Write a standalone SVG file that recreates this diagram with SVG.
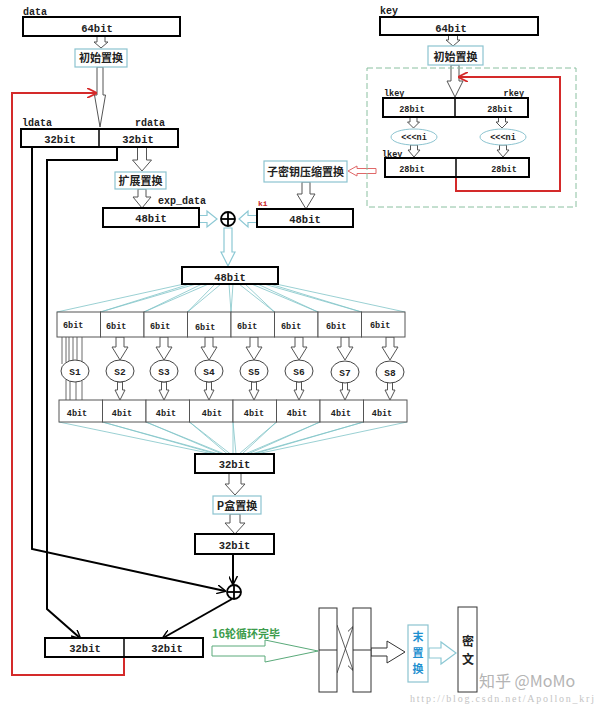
<svg xmlns="http://www.w3.org/2000/svg" xmlns:xlink="http://www.w3.org/1999/xlink" width="600" height="707" viewBox="0 0 600 707">
<style>
.bg{fill:#fff}
.b{fill:#fff;stroke:#000;stroke-width:2}
.sb{fill:#fff;stroke:#555;stroke-width:1}
.lb{fill:#fff;stroke:#8cc4d0;stroke-width:1.2}
.t{font-family:"Liberation Mono",monospace;font-weight:bold;fill:#222;text-anchor:middle}
.l{font-family:"Liberation Mono",monospace;font-weight:bold;fill:#222}
.cn{font-family:"Noto Sans CJK SC",sans-serif;font-weight:bold;font-size:11px;fill:#222;text-anchor:middle}
.ha{fill:#fff;stroke:#555;stroke-width:1}
.hb{fill:#fff;stroke:#8cc8d4;stroke-width:1.2}
.fan{stroke:#80c4c8;stroke-width:0.8;fill:none}
.blk{stroke:#000;stroke-width:2;fill:none}
.red{stroke:#d42a2a;stroke-width:2;fill:none}
.thin{stroke:#333;stroke-width:0.8;fill:none}
</style>
<defs>
<marker id="ab" viewBox="0 0 10 10" refX="9" refY="5" markerWidth="9" markerHeight="9" markerUnits="userSpaceOnUse" orient="auto"><path d="M0,0 L10,5 L0,10" fill="none" stroke="#000" stroke-width="1.6"/></marker>
<marker id="ar" viewBox="0 0 10 10" refX="9" refY="5" markerWidth="10" markerHeight="10" markerUnits="userSpaceOnUse" orient="auto"><path d="M0,0 L10,5 L0,10" fill="none" stroke="#d42a2a" stroke-width="1.8"/></marker>
<marker id="at" viewBox="0 0 10 10" refX="9" refY="5" markerWidth="7" markerHeight="7" markerUnits="userSpaceOnUse" orient="auto"><path d="M0,0 L10,5 L0,10" fill="none" stroke="#333" stroke-width="1.2"/></marker>
<path id="sa" class="ha" d="M-4,0 L4,0 L4,10 L8,10 L0,23 L-8,10 L-4,10 Z"/>
<path id="sm" class="ha" d="M-2.5,0 L2.5,0 L2.5,8 L5,8 L0,18 L-5,8 L-2.5,8 Z"/>
</defs>
<rect class="bg" x="0" y="0" width="600" height="707"/>

<g id="connectors">
  <g id="fanout">
    <line class="fan" x1="184" y1="284" x2="57" y2="312"/>
    <line class="fan" x1="190" y1="284" x2="100.5" y2="312"/>
    <line class="fan" x1="196" y1="284" x2="100.5" y2="312"/>
    <line class="fan" x1="202" y1="284" x2="144" y2="312"/>
    <line class="fan" x1="208.5" y1="284" x2="144" y2="312"/>
    <line class="fan" x1="215" y1="284" x2="187.5" y2="312"/>
    <line class="fan" x1="221" y1="284" x2="187.5" y2="312"/>
    <line class="fan" x1="229" y1="284" x2="231" y2="312"/>
    <line class="fan" x1="233" y1="284" x2="231" y2="312"/>
    <line class="fan" x1="239" y1="284" x2="274.5" y2="312"/>
    <line class="fan" x1="245" y1="284" x2="274.5" y2="312"/>
    <line class="fan" x1="251.5" y1="284" x2="318" y2="312"/>
    <line class="fan" x1="257.5" y1="284" x2="318" y2="312"/>
    <line class="fan" x1="264" y1="284" x2="361.5" y2="312"/>
    <line class="fan" x1="270" y1="284" x2="361.5" y2="312"/>
    <line class="fan" x1="276" y1="284" x2="405" y2="312"/>
  </g>
  <g id="fanin">
    <line class="fan" x1="59" y1="422" x2="213" y2="454"/>
    <line class="fan" x1="102.5" y1="422" x2="216" y2="454"/>
    <line class="fan" x1="102.5" y1="422" x2="219" y2="454"/>
    <line class="fan" x1="146" y1="422" x2="222" y2="454"/>
    <line class="fan" x1="146" y1="422" x2="224.5" y2="454"/>
    <line class="fan" x1="189.5" y1="422" x2="227.5" y2="454"/>
    <line class="fan" x1="189.5" y1="422" x2="230.5" y2="454"/>
    <line class="fan" x1="233" y1="422" x2="233" y2="454"/>
    <line class="fan" x1="233" y1="422" x2="236" y2="454"/>
    <line class="fan" x1="276.5" y1="422" x2="239" y2="454"/>
    <line class="fan" x1="276.5" y1="422" x2="242" y2="454"/>
    <line class="fan" x1="320" y1="422" x2="245" y2="454"/>
    <line class="fan" x1="320" y1="422" x2="248" y2="454"/>
    <line class="fan" x1="363.5" y1="422" x2="251" y2="454"/>
    <line class="fan" x1="363.5" y1="422" x2="253.5" y2="454"/>
    <line class="fan" x1="407" y1="422" x2="256.5" y2="454"/>
  </g>
  <g id="s1lines" stroke="#444" stroke-width="0.8">
    <line x1="62" y1="337" x2="62" y2="364"/>
    <line x1="66" y1="337" x2="66" y2="362"/>
    <line x1="69" y1="337" x2="69" y2="361"/>
    <line x1="73" y1="337" x2="73" y2="361"/>
    <line x1="77" y1="337" x2="77" y2="361"/>
    <line x1="82" y1="337" x2="82" y2="362"/>
    <line x1="66" y1="380" x2="66" y2="400"/>
    <line x1="70" y1="381" x2="70" y2="400"/>
    <line x1="76" y1="382" x2="76" y2="400"/>
    <line x1="82" y1="381" x2="82" y2="400"/>
  </g>
  <path class="ha" d="M97,36 L105,36 L105,42 L108,42 L101,48 L94,42 L97,42 Z"/>
  <path class="ha" d="M97,67 L103,67 L103,95 L105.5,95 L100,127 L94.5,95 L97,95 Z"/>
  <path class="ha" d="M137.5,147 L146.5,147 L146.5,160 L151.5,160 L142,171 L132.5,160 L137.5,160 Z"/>
  <path class="ha" d="M138,189 L146,189 L146,197 L151,197 L142,208 L133,197 L138,197 Z"/>
  <path class="hb" d="M199,215.5 L207,215.5 L207,211 L217,219 L207,227 L207,222.5 L199,222.5 Z"/>
  <path class="hb" d="M257,215.5 L248,215.5 L248,211 L239,219 L248,227 L248,222.5 L257,222.5 Z"/>
  <path class="hb" d="M224,228 L232,228 L232,252 L235,252 L228,266 L221,252 L224,252 Z"/>
  <path class="ha" d="M302,182 L310,182 L310,194 L315,194 L306,209 L297,194 L302,194 Z"/>
  <path class="ha" d="M448.5,35 L457.5,35 L457.5,40 L460,40 L453,46 L446,40 L448.5,40 Z"/>
  <path class="ha" d="M451,65 L459,65 L459,81 L463,81 L455,97 L447,81 L451,81 Z"/>
  <path class="ha" d="M410,117 L417,117 L417,122 L419.5,122 L413.5,128 L407.5,122 L410,122 Z"/>
  <path class="ha" d="M498.5,117 L505.5,117 L505.5,122 L508,122 L502,128 L496,122 L498.5,122 Z"/>
  <path class="ha" d="M410.5,145 L417.5,145 L417.5,150 L420,150 L414,157 L408,150 L410.5,150 Z"/>
  <path class="ha" d="M499.5,145 L506.5,145 L506.5,150 L509,150 L503,157 L497,150 L499.5,150 Z"/>
  <path fill="#fff" stroke="#e06868" stroke-width="1" d="M376,168.5 L357,168.5 L357,166 L348,171 L357,176 L357,173.5 L376,173.5 Z"/>
  <use xlink:href="#sa" x="120" y="337"/>
  <use xlink:href="#sa" x="164" y="337"/>
  <use xlink:href="#sa" x="209" y="337"/>
  <use xlink:href="#sa" x="254" y="337"/>
  <use xlink:href="#sa" x="299" y="337"/>
  <use xlink:href="#sa" x="345" y="337"/>
  <use xlink:href="#sa" x="390" y="337"/>
  <use xlink:href="#sm" x="120" y="382"/>
  <use xlink:href="#sm" x="164" y="382"/>
  <use xlink:href="#sm" x="209" y="382"/>
  <use xlink:href="#sm" x="254" y="382"/>
  <use xlink:href="#sm" x="299" y="382"/>
  <use xlink:href="#sm" x="345" y="382"/>
  <use xlink:href="#sm" x="390" y="382"/>
  <path class="ha" d="M229,473 L241,473 L241,484 L245,484 L235,495 L225,484 L229,484 Z"/>
  <path class="ha" d="M230,514 L240,514 L240,523 L245,523 L235,534 L225,523 L230,523 Z"/>
  <path fill="#fff" stroke="#5aaa7a" stroke-width="1" d="M212,646 L265,646 L265,640 L318,651 L265,662 L265,656 L212,656 Z"/>
  <path fill="#fff" stroke="#333" stroke-width="1" d="M371,648 L387,648 L387,641 L405,652 L387,663 L387,656 L371,656 Z"/>
  <path class="hb" d="M429,648 L441,648 L441,642 L456,653 L441,664 L441,658 L429,658 Z"/>
  <polyline class="blk" points="32,147 32,549 225,591" marker-end="url(#ab)"/>
  <polyline class="blk" points="117,147 117,160 47,160 47,609 80,638" marker-end="url(#ab)"/>
  <line class="blk" x1="233" y1="554" x2="233" y2="584" marker-end="url(#ab)"/>
  <line class="blk" x1="232" y1="599" x2="163" y2="638" marker-end="url(#ab)"/>
  <polyline class="red" points="124,657 124,675 12,675 12,93 96,93" marker-end="url(#ar)"/>
  <polyline class="red" points="456,177 456,191 560,191 560,77 459,77" marker-end="url(#ar)"/>
  <line class="thin" x1="337" y1="625" x2="353" y2="670" marker-end="url(#at)"/>
  <line class="thin" x1="337" y1="673" x2="353" y2="627" marker-end="url(#at)"/>
</g>

<g id="data-input">
  <text class="l" x="23" y="15" font-size="10">data</text>
  <rect class="b" x="23" y="17" width="157" height="19"/>
  <text class="t" x="97" y="32" font-size="10.5">64bit</text>
</g>
<g id="ip-left">
  <rect class="lb" x="75" y="49" width="52" height="18"/>
  <text class="cn" x="101" y="62">初始置换</text>
</g>
<g id="lr-data">
  <text class="l" x="22" y="126" font-size="10">ldata</text>
  <text class="l" x="135" y="126" font-size="10">rdata</text>
  <rect class="b" x="21" y="129" width="157" height="18"/>
  <line stroke="#000" stroke-width="1.5" x1="99" y1="129" x2="99" y2="147"/>
  <text class="t" x="60" y="143" font-size="10.5">32bit</text>
  <text class="t" x="138" y="143" font-size="10.5">32bit</text>
</g>
<g id="expand">
  <rect class="lb" x="115" y="172" width="51" height="17"/>
  <text class="cn" x="140.5" y="185">扩展置换</text>
</g>
<g id="exp-data">
  <text class="l" x="158" y="204" font-size="10">exp_data</text>
  <rect class="b" x="103" y="208" width="96" height="19"/>
  <text class="t" x="151" y="222" font-size="10.5">48bit</text>
</g>
<g id="xor1">
  <circle cx="228" cy="219" r="7" fill="#fff" stroke="#000" stroke-width="1.8"/>
  <line x1="221" y1="219" x2="235" y2="219" stroke="#000" stroke-width="1.8"/>
  <line x1="228" y1="212" x2="228" y2="226" stroke="#000" stroke-width="1.8"/>
</g>
<g id="ki">
  <text class="l" x="258" y="206" font-size="8" style="fill:#c82828">ki</text>
  <rect class="b" x="257" y="209" width="96" height="18"/>
  <text class="t" x="305" y="223" font-size="10.5">48bit</text>
</g>
<g id="pc2">
  <rect class="lb" x="264" y="161" width="83" height="21"/>
  <text class="cn" x="305.5" y="176">子密钥压缩置换</text>
</g>
<g id="key-input">
  <text class="l" x="380" y="14" font-size="10">key</text>
  <rect class="b" x="380" y="17" width="158" height="18"/>
  <text class="t" x="451" y="31.5" font-size="10.5">64bit</text>
</g>
<g id="ip-key">
  <rect class="lb" x="428" y="46" width="55" height="19"/>
  <text class="cn" x="455.5" y="60.5">初始置换</text>
</g>
<g id="key-schedule">
  <rect x="367" y="68" width="209" height="139" fill="none" stroke="#8ac0a0" stroke-width="1" stroke-dasharray="6,3"/>
  <text class="l" x="384" y="96" font-size="8.5">lkey</text>
  <text class="l" x="524" y="96" font-size="8.5" text-anchor="end">rkey</text>
  <rect class="b" x="383" y="98" width="145" height="19"/>
  <line stroke="#000" stroke-width="1.5" x1="455" y1="98" x2="455" y2="117"/>
  <text class="t" x="412" y="111.5" font-size="8.5">28bit</text>
  <text class="t" x="500" y="111.5" font-size="8.5">28bit</text>
  <ellipse cx="414" cy="137" rx="23" ry="8" fill="#fff" stroke="#8cc4d0" stroke-width="1"/>
  <ellipse cx="503" cy="137" rx="23" ry="8" fill="#fff" stroke="#8cc4d0" stroke-width="1"/>
  <text class="t" x="414" y="140" font-size="8.5">&lt;&lt;&lt;ni</text>
  <text class="t" x="503" y="140" font-size="8.5">&lt;&lt;&lt;ni</text>
  <text class="l" x="382" y="157" font-size="8.5">lkey</text>
  <rect class="b" x="385" y="158" width="144" height="19"/>
  <line stroke="#000" stroke-width="1.5" x1="456" y1="158" x2="456" y2="177"/>
  <text class="t" x="412" y="171.5" font-size="8.5">28bit</text>
  <text class="t" x="504" y="171.5" font-size="8.5">28bit</text>
</g>
<g id="xor-out-48">
  <rect class="b" x="182" y="267" width="96" height="17"/>
  <text class="t" x="230" y="280.5" font-size="10.5">48bit</text>
</g>
<g id="six-bit-row">
  <rect class="sb" x="57" y="312" width="43.5" height="25"/>
  <rect class="sb" x="100.5" y="312" width="43.5" height="25"/>
  <rect class="sb" x="144" y="312" width="43.5" height="25"/>
  <rect class="sb" x="187.5" y="312" width="43.5" height="25"/>
  <rect class="sb" x="231" y="312" width="43.5" height="25"/>
  <rect class="sb" x="274.5" y="312" width="43.5" height="25"/>
  <rect class="sb" x="318" y="312" width="43.5" height="25"/>
  <rect class="sb" x="361.5" y="312" width="43.5" height="25"/>
  <text class="l" font-size="8.5" x="63" y="328">6bit</text>
  <text class="l" font-size="8.5" x="106" y="329">6bit</text>
  <text class="l" font-size="8.5" x="150" y="329">6bit</text>
  <text class="l" font-size="8.5" x="195" y="330">6bit</text>
  <text class="l" font-size="8.5" x="237" y="329">6bit</text>
  <text class="l" font-size="8.5" x="281" y="329">6bit</text>
  <text class="l" font-size="8.5" x="326" y="329">6bit</text>
  <text class="l" font-size="8.5" x="370" y="328">6bit</text>
</g>
<g id="sboxes">
  <ellipse cx="75" cy="371" rx="14" ry="11" fill="#fff" stroke="#444" stroke-width="1"/>
  <ellipse cx="120" cy="371" rx="14" ry="11" fill="#fff" stroke="#444" stroke-width="1"/>
  <ellipse cx="164" cy="371" rx="14" ry="11" fill="#fff" stroke="#444" stroke-width="1"/>
  <ellipse cx="209" cy="371" rx="14" ry="11" fill="#fff" stroke="#444" stroke-width="1"/>
  <ellipse cx="254" cy="371" rx="14" ry="11" fill="#fff" stroke="#444" stroke-width="1"/>
  <ellipse cx="299" cy="371" rx="14" ry="11" fill="#fff" stroke="#444" stroke-width="1"/>
  <ellipse cx="345" cy="372" rx="14" ry="11" fill="#fff" stroke="#444" stroke-width="1"/>
  <ellipse cx="390" cy="372" rx="14" ry="11" fill="#fff" stroke="#444" stroke-width="1"/>
  <text class="t" font-size="9.5" x="75" y="375">S1</text>
  <text class="t" font-size="9.5" x="120" y="375">S2</text>
  <text class="t" font-size="9.5" x="164" y="375">S3</text>
  <text class="t" font-size="9.5" x="209" y="375">S4</text>
  <text class="t" font-size="9.5" x="254" y="375">S5</text>
  <text class="t" font-size="9.5" x="299" y="375">S6</text>
  <text class="t" font-size="9.5" x="345" y="376">S7</text>
  <text class="t" font-size="9.5" x="390" y="376">S8</text>
</g>
<g id="four-bit-row">
  <rect class="sb" x="59" y="400" width="43.5" height="22"/>
  <rect class="sb" x="102.5" y="400" width="43.5" height="22"/>
  <rect class="sb" x="146" y="400" width="43.5" height="22"/>
  <rect class="sb" x="189.5" y="400" width="43.5" height="22"/>
  <rect class="sb" x="233" y="400" width="43.5" height="22"/>
  <rect class="sb" x="276.5" y="400" width="43.5" height="22"/>
  <rect class="sb" x="320" y="400" width="43.5" height="22"/>
  <rect class="sb" x="363.5" y="400" width="43.5" height="22"/>
  <text class="t" font-size="8.5" x="77" y="416">4bit</text>
  <text class="t" font-size="8.5" x="122" y="416">4bit</text>
  <text class="t" font-size="8.5" x="166" y="416">4bit</text>
  <text class="t" font-size="8.5" x="212" y="416">4bit</text>
  <text class="t" font-size="8.5" x="254" y="416">4bit</text>
  <text class="t" font-size="8.5" x="297" y="416">4bit</text>
  <text class="t" font-size="8.5" x="341" y="416">4bit</text>
  <text class="t" font-size="8.5" x="382" y="416">4bit</text>
</g>
<g id="sbox-out-32">
  <rect class="b" x="195" y="454" width="79" height="19"/>
  <text class="t" x="234.5" y="468" font-size="10.5">32bit</text>
</g>
<g id="pbox">
  <rect class="lb" x="213" y="496" width="48" height="18"/>
  <text class="cn" x="237" y="510">P盒置换</text>
</g>
<g id="f-out-32">
  <rect class="b" x="195" y="534" width="79" height="20"/>
  <text class="t" x="234.5" y="549" font-size="10.5">32bit</text>
</g>
<g id="xor2">
  <circle cx="234" cy="592" r="7" fill="#fff" stroke="#000" stroke-width="1.8"/>
  <line x1="227" y1="592" x2="241" y2="592" stroke="#000" stroke-width="1.8"/>
  <line x1="234" y1="585" x2="234" y2="599" stroke="#000" stroke-width="1.8"/>
</g>
<g id="round-out">
  <rect class="b" x="45" y="638" width="158" height="19"/>
  <line stroke="#000" stroke-width="1.5" x1="124" y1="638" x2="124" y2="657"/>
  <text class="t" x="85" y="652" font-size="10.5">32bit</text>
  <text class="t" x="167" y="652" font-size="10.5">32bit</text>
</g>
<g id="done-label">
  <text x="212" y="638" font-family="Noto Sans CJK SC, sans-serif" font-weight="bold" font-size="11" fill="#3c9c4c">16轮循环完毕</text>
</g>
<g id="swap-before">
  <rect x="319" y="608" width="18" height="84" fill="#fff" stroke="#333" stroke-width="1"/>
  <line x1="319" y1="650" x2="337" y2="650" stroke="#333" stroke-width="1"/>
</g>
<g id="swap-after">
  <rect x="353" y="608" width="18" height="84" fill="#fff" stroke="#333" stroke-width="1"/>
  <line x1="353" y1="650" x2="371" y2="650" stroke="#333" stroke-width="1"/>
</g>
<g id="fp">
  <rect class="lb" x="408" y="625" width="20" height="57"/>
  <text class="cn" x="418" y="641" style="fill:#1e90d0;font-size:11px">末</text>
  <text class="cn" x="418" y="657" style="fill:#1e90d0;font-size:11px">置</text>
  <text class="cn" x="418" y="673" style="fill:#1e90d0;font-size:11px">换</text>
</g>
<g id="cipher">
  <rect x="458" y="607" width="19" height="85" fill="#fff" stroke="#333" stroke-width="1"/>
  <text class="cn" x="468" y="646" style="font-size:12px">密</text>
  <text class="cn" x="468" y="664" style="font-size:12px">文</text>
</g>
<g id="watermark">
  <text x="479" y="687" font-family="Noto Sans CJK SC, sans-serif" font-size="16" fill="#b4b4b4">知乎 @MoMo</text>
  <text x="410" y="702" font-family="Liberation Serif, serif" font-size="10" fill="#c4c4c4" textLength="184">http://blog.csdn.net/Apollon_krj</text>
</g>
</svg>
